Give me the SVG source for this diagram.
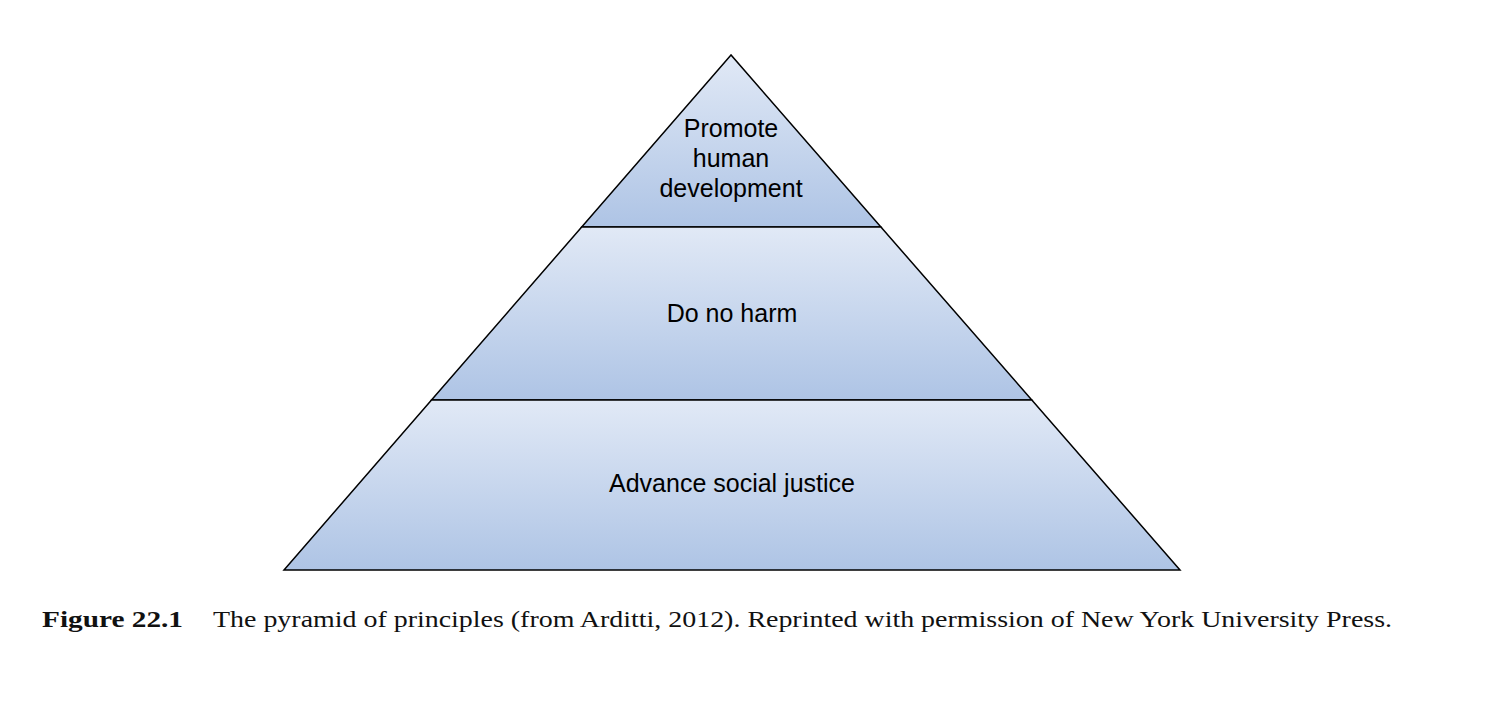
<svg xmlns="http://www.w3.org/2000/svg" width="1486" height="708" viewBox="0 0 1486 708">
<defs>
<linearGradient id="tierGrad" x1="0" y1="0" x2="0" y2="1">
<stop offset="0" stop-color="#e1e9f6"/>
<stop offset="1" stop-color="#aec4e5"/>
</linearGradient>
</defs>
<style>
.tier{fill:url(#tierGrad);stroke:#000;stroke-width:1.5;stroke-linejoin:miter}
.lbl{font-family:"Liberation Sans",Arial,sans-serif;font-size:25px;fill:#000;text-anchor:middle}
.cap{font-family:"Liberation Serif","Times New Roman",serif;font-size:24px;fill:#111}
</style>
<rect width="1486" height="708" fill="#fff"/>
<g id="tier-top">
<polygon class="tier" points="731,55 581.7,227 880.9,227"/>
<text class="lbl" x="731" y="137">Promote</text>
<text class="lbl" x="731" y="167">human</text>
<text class="lbl" x="731" y="197">development</text>
</g>
<g id="tier-middle">
<polygon class="tier" points="581.7,227 880.9,227 1031.8,400 431.5,400"/>
<text class="lbl" x="732" y="322">Do no harm</text>
</g>
<g id="tier-bottom">
<polygon class="tier" points="431.5,400 1031.8,400 1180,570 284,570"/>
<text class="lbl" x="732" y="492">Advance social justice</text>
</g>
<g id="connectors"></g>
<g id="caption">
<text class="cap" x="42" y="627" font-weight="bold" textLength="141" lengthAdjust="spacingAndGlyphs">Figure 22.1</text>
<text class="cap" x="213" y="627" textLength="1179" lengthAdjust="spacingAndGlyphs">The pyramid of principles (from Arditti, 2012). Reprinted with permission of New York University Press.</text>
</g>
</svg>
